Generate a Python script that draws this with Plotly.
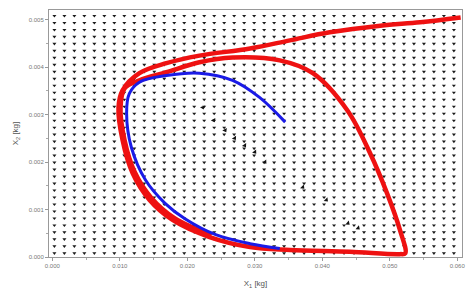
import plotly.graph_objects as go

# Red trajectory
red_x = [0.0605, 0.0545, 0.0486, 0.0411, 0.0352, 0.0293, 0.0218, 0.0169, 0.0129, 0.0104, 0.0098,
         0.0104, 0.0119, 0.0144, 0.0178, 0.0233, 0.0293, 0.0352, 0.0441, 0.0515, 0.0523,
         0.0515, 0.0496, 0.0471, 0.0437, 0.0386, 0.0337, 0.0267, 0.0218, 0.0169, 0.0129,
         0.0107, 0.0101, 0.0107, 0.0122, 0.0147, 0.0181, 0.0236]
red_y = [0.00504, 0.00494, 0.00487, 0.00473, 0.00456, 0.00439, 0.00424, 0.00408, 0.00387, 0.00351, 0.00315,
         0.00246, 0.00176, 0.00120, 0.00078, 0.00042, 0.00021, 0.00015, 0.00011, 0.00006, 0.00008,
         0.00057, 0.00134, 0.00218, 0.00309, 0.00387, 0.00414, 0.00420, 0.00410, 0.00389, 0.00372,
         0.00355, 0.00315, 0.00246, 0.00179, 0.00124, 0.00082, 0.00046]

# Blue trajectory
blue_x = [0.0345, 0.0307, 0.0267, 0.0218, 0.0169, 0.0129, 0.0114, 0.0110, 0.0117, 0.0138,
          0.0167, 0.0197, 0.0242, 0.0293, 0.0337]
blue_y = [0.00284, 0.00336, 0.00372, 0.00387, 0.00382, 0.00368, 0.00344, 0.00302, 0.00231, 0.00162,
          0.00113, 0.00080, 0.00047, 0.00028, 0.00018]

# Direction-field grid (column / row positions)
grid_cols = [0.0003 + 0.00148 * i for i in range(41)]
grid_rows = [0.00008 + 0.000147 * j for j in range(35)]
grid_angle = 180

# Emphasised (longer) arrows along the diagonal
big_x = [0.0223, 0.0239, 0.0256, 0.0270, 0.0285, 0.0300, 0.0315, 0.0371, 0.0406, 0.0438, 0.0453]
big_y = [0.00315, 0.00288, 0.00267, 0.00250, 0.00235, 0.00221, 0.00200, 0.00147, 0.00120, 0.00071, 0.00061]
big_angle = [160, 150, 150, 145, 145, 140, 140, 135, 135, 130, 130]

gx, gy = [], []
for xv in grid_cols:
    for yv in grid_rows:
        gx.append(xv)
        gy.append(yv)

fig = go.Figure()
fig.add_trace(go.Scatter(x=gx, y=gy, mode="markers",
                         marker=dict(symbol="triangle-down", size=3.5, angle=0, color="#1a1a1a",
                                     line=dict(width=0)),
                         hoverinfo="skip", showlegend=False))
fig.add_trace(go.Scatter(x=big_x, y=big_y, mode="markers",
                         marker=dict(symbol="triangle-down", size=4.5, angle=[a - 180 for a in big_angle],
                                     color="#111111", line=dict(width=0)),
                         hoverinfo="skip", showlegend=False))
fig.add_trace(go.Scatter(x=red_x, y=red_y, mode="lines", line=dict(color="#ee1111", width=4.5, shape="spline"),
                         showlegend=False))
fig.add_trace(go.Scatter(x=blue_x, y=blue_y, mode="lines", line=dict(color="#1a1ae6", width=3, shape="spline"),
                         showlegend=False))

axis_common = dict(showgrid=False, zeroline=False, showline=True, linecolor="#999999", linewidth=1,
                   mirror=True, ticks="outside", ticklen=3, tickcolor="#999999",
                   tickfont=dict(family="Liberation Sans", size=6, color="#777777"),
                   minor=dict(ticks="outside", ticklen=2, tickcolor="#aaaaaa"))

fig.update_xaxes(range=[-0.0005, 0.0607], tickvals=[0, 0.01, 0.02, 0.03, 0.04, 0.05, 0.06],
                 tickformat=".3f",
                 title=dict(text="X<sub>1</sub> [kg]", font=dict(family="Liberation Sans", size=8, color="#555555"),
                            standoff=12),
                 **axis_common)
fig.update_yaxes(range=[0, 0.0052], tickvals=[0, 0.001, 0.002, 0.003, 0.004, 0.005],
                 tickformat=".3f",
                 title=dict(text="X<sub>2</sub> [kg]", font=dict(family="Liberation Sans", size=8, color="#555555"),
                            standoff=8),
                 **axis_common)

fig.update_layout(width=474, height=299, margin=dict(l=49, r=12, t=10, b=42),
                  paper_bgcolor="white", plot_bgcolor="white")

fig.write_html("out.html")
